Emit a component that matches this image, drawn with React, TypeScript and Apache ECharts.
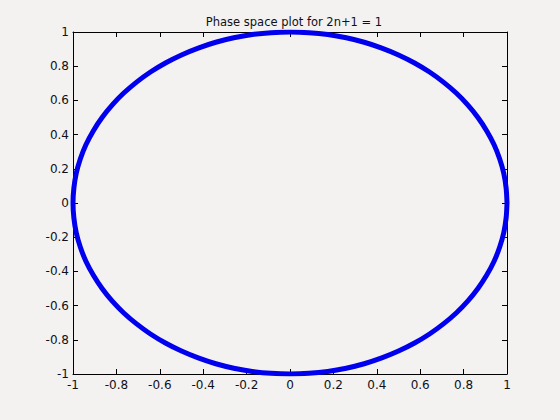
import * as echarts from 'echarts';
import { useEffect, useRef } from 'react';

const xs = [
  1, 0.996, 0.985, 0.966, 0.94, 0.906, 0.866, 0.819, 0.766, 0.707, 0.643, 0.574, 0.5,
  0.423, 0.342, 0.259, 0.174, 0.087, 0, -0.087, -0.174, -0.259, -0.342, -0.423, -0.5,
  -0.574, -0.643, -0.707, -0.766, -0.819, -0.866, -0.906, -0.94, -0.966, -0.985, -0.996,
  -1, -0.996, -0.985, -0.966, -0.94, -0.906, -0.866, -0.819, -0.766, -0.707, -0.643,
  -0.574, -0.5, -0.423, -0.342, -0.259, -0.174, -0.087, 0, 0.087, 0.174, 0.259, 0.342,
  0.423, 0.5, 0.574, 0.643, 0.707, 0.766, 0.819, 0.866, 0.906, 0.94, 0.966, 0.985, 0.996, 1,
];
const ys = [
  0, 0.087, 0.174, 0.259, 0.342, 0.423, 0.5, 0.574, 0.643, 0.707, 0.766, 0.819, 0.866,
  0.906, 0.94, 0.966, 0.985, 0.996, 1, 0.996, 0.985, 0.966, 0.94, 0.906, 0.866, 0.819,
  0.766, 0.707, 0.643, 0.574, 0.5, 0.423, 0.342, 0.259, 0.174, 0.087, 0, -0.087, -0.174,
  -0.259, -0.342, -0.423, -0.5, -0.574, -0.643, -0.707, -0.766, -0.819, -0.866, -0.906,
  -0.94, -0.966, -0.985, -0.996, -1, -0.996, -0.985, -0.966, -0.94, -0.906, -0.866,
  -0.819, -0.766, -0.707, -0.643, -0.574, -0.5, -0.423, -0.342, -0.259, -0.174, -0.087, 0,
];

const chartTitle = 'Phase space plot for 2n+1 = 1';
const bg = '#f3f2f0';
const font = 'DejaVu Sans, Verdana, sans-serif';

const axisBase = {
  type: 'value' as const,
  min: -1,
  max: 1,
  interval: 0.2,
  splitLine: { show: false },
  axisLine: { show: true, onZero: false, lineStyle: { color: '#000', width: 1 } },
  axisTick: { show: true, inside: true, length: 5, lineStyle: { color: '#000' } },
};

const labelStyle = {
  color: '#10101a',
  fontSize: 12,
  fontFamily: font,
};

const App = () => {
  const chartRef = useRef<HTMLDivElement>(null);

  useEffect(() => {
    document.body.style.margin = '0';
    document.body.style.background = bg;
    if (!chartRef.current) return;
    const chart = echarts.init(chartRef.current, null, { renderer: 'svg' });
    chart.setOption({
      animation: false,
      backgroundColor: bg,
      title: {
        text: chartTitle,
        left: 289,
        textAlign: 'center',
        top: 11,
        textStyle: { color: '#10101a', fontSize: 11.5, fontWeight: 'normal', fontFamily: font },
      },
      grid: { left: 73, right: 53, top: 32, bottom: 46, containLabel: false },
      xAxis: [
        {
          ...axisBase,
          position: 'bottom',
          axisLabel: { ...labelStyle, margin: 5 },
        },
        {
          ...axisBase,
          position: 'top',
          axisLabel: { show: false },
        },
      ],
      yAxis: [
        {
          ...axisBase,
          position: 'left',
          axisLabel: { ...labelStyle, margin: 4 },
        },
        {
          ...axisBase,
          position: 'right',
          axisLabel: { show: false },
        },
      ],
      series: [
        {
          type: 'line',
          xAxisIndex: 0,
          yAxisIndex: 0,
          data: xs.map((x, i) => [x, ys[i]]),
          smooth: 0.3,
          showSymbol: false,
          lineStyle: { color: '#0000ee', width: 5 },
          clip: true,
        },
      ],
    });
    return () => {
      chart.dispose();
    };
  }, []);

  return <div ref={chartRef} style={{ width: 560, height: 420 }}></div>;
};

export default App;
